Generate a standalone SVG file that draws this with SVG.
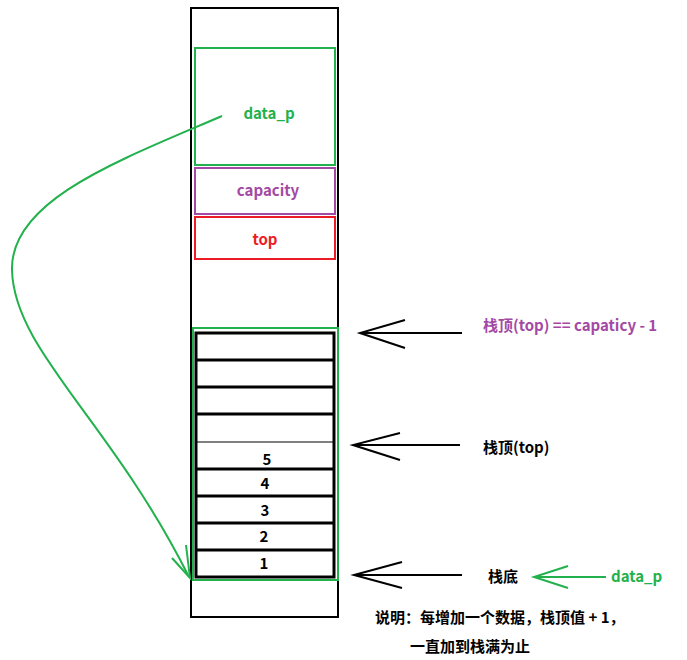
<svg xmlns="http://www.w3.org/2000/svg" width="687" height="660" viewBox="0 0 687 660">
<style>
text{font-family:"Microsoft YaHei","Noto Sans CJK SC","Liberation Sans",sans-serif;font-weight:bold;font-size:15px}
.blk{fill:none;stroke:#000;stroke-width:2}
.row{stroke:#000;stroke-width:3}
.arr{fill:none;stroke:#000;stroke-width:2}
.grn{fill:none;stroke:#22b14c;stroke-width:2}
</style>
<rect width="687" height="660" fill="#fff"/>
<g id="frame"><rect class="blk" x="191" y="8" width="147" height="609"/></g>
<g id="data_p_cell"><rect x="195" y="48" width="140" height="117" fill="none" stroke="#22b14c" stroke-width="2"/><text x="269" y="119" text-anchor="middle" fill="#22b14c">data_p</text></g>
<g id="capacity_cell"><rect x="195" y="168" width="140" height="46" fill="none" stroke="#a349a4" stroke-width="2"/><text x="268" y="196" text-anchor="middle" fill="#a349a4">capacity</text></g>
<g id="top_cell"><rect x="195" y="217" width="140" height="42" fill="none" stroke="#ed1c24" stroke-width="2"/><text x="265" y="245" text-anchor="middle" fill="#ed1c24">top</text></g>
<g id="stack">
<rect x="196" y="333" width="138" height="244" fill="none" stroke="#000" stroke-width="3"/>
<line class="row" x1="196" y1="360" x2="334" y2="360"/>
<line class="row" x1="196" y1="387" x2="334" y2="387"/>
<line class="row" x1="196" y1="414" x2="334" y2="414"/>
<line x1="196" y1="442" x2="334" y2="442" stroke="#000" stroke-width="1"/>
<line class="row" x1="196" y1="469" x2="334" y2="469"/>
<line class="row" x1="196" y1="496" x2="334" y2="496"/>
<line class="row" x1="196" y1="523" x2="334" y2="523"/>
<line class="row" x1="196" y1="550" x2="334" y2="550"/>
<text x="267" y="465" text-anchor="middle">5</text>
<text x="265" y="489" text-anchor="middle">4</text>
<text x="265" y="516" text-anchor="middle">3</text>
<text x="264" y="542" text-anchor="middle">2</text>
<text x="264" y="569" text-anchor="middle">1</text>
<rect class="grn" x="193" y="328" width="145" height="252" stroke-width="3"/>
</g>
<g id="connectors">
<path class="grn" d="M222 116 C120 160 10 200 12 270 C14 350 110 420 188 575"/>
<path class="grn" d="M172 558 L190 578 L186 545"/>
<line class="arr" x1="362" y1="333" x2="462" y2="333"/><path class="arr" d="M405 320 L360 333 L405 348"/>
<line class="arr" x1="355" y1="445" x2="460" y2="445"/><path class="arr" d="M400 433 L353 445 L400 460"/>
<line class="arr" x1="356" y1="575" x2="462" y2="575"/><path class="arr" d="M402 562 L354 575 L402 588"/>
<line class="grn" x1="536" y1="577" x2="606" y2="577"/><path class="grn" d="M568 566 L534 577 L568 588"/>
</g>
<g id="labels">
<text x="483" y="331" fill="#a349a4">栈顶(top) == capaticy - 1</text>
<text x="483" y="453">栈顶(top)</text>
<text x="488" y="582">栈底</text>
<text x="611" y="582" fill="#22b14c">data_p</text>
<text x="375" y="623" font-size="14">说明：每增加一个数据，栈顶值 + 1，</text>
<text x="410" y="652" font-size="14">一直加到栈满为止</text>
</g>
</svg>
